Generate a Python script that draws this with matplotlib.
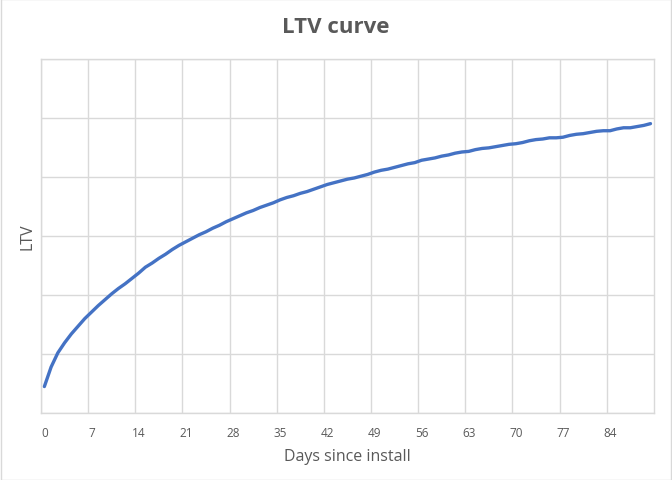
import matplotlib.pyplot as plt
from matplotlib.patches import Rectangle

# Days since install (one category per day) and LTV
days = list(range(91))
ltv = [
    0.45, 0.78, 1.02, 1.19, 1.34, 1.47, 1.60, 1.71, 1.82, 1.92,
    2.02, 2.11, 2.19, 2.28, 2.37, 2.47, 2.54, 2.62, 2.69, 2.77,
    2.84, 2.90, 2.96, 3.02, 3.07, 3.13, 3.18, 3.24, 3.29, 3.34,
    3.39, 3.43, 3.48, 3.52, 3.56, 3.61, 3.65, 3.68, 3.72, 3.75,
    3.79, 3.83, 3.87, 3.90, 3.93, 3.96, 3.98, 4.01, 4.04, 4.08,
    4.11, 4.13, 4.16, 4.19, 4.22, 4.24, 4.28, 4.30, 4.32, 4.35,
    4.37, 4.40, 4.42, 4.43, 4.46, 4.48, 4.49, 4.51, 4.53, 4.55,
    4.56, 4.58, 4.61, 4.63, 4.64, 4.66, 4.66, 4.67, 4.70, 4.72,
    4.73, 4.75, 4.77, 4.78, 4.78, 4.81, 4.83, 4.83, 4.85, 4.87,
    4.90,
]
tick_days = list(range(0, 85, 7))

GRID = "#D9D9D9"
TEXT = "#595959"

plt.rcParams["font.family"] = ["Open Sans", "DejaVu Sans"]

fig = plt.figure(figsize=(6.72, 4.81), dpi=100)
ax = fig.add_axes([0.061, 0.139, 0.912, 0.737])

ax.plot(days, ltv, color="#4472C4", linewidth=2.4, solid_capstyle="round")

# category-style axis: gridlines on category boundaries, labels at centres
ax.set_xlim(-0.5, len(days) - 0.5)
ax.set_ylim(0, 6)
ax.set_xticks(tick_days)
ax.set_xticklabels([str(d) for d in tick_days])
ax.set_xticks([d - 0.5 for d in tick_days], minor=True)
ax.set_yticks(range(0, 7))
ax.set_yticklabels([])
ax.tick_params(axis="both", which="both", length=0)
ax.tick_params(axis="x", labelsize=8.5, labelcolor=TEXT, pad=9)
ax.grid(True, which="minor", axis="x", color=GRID, linewidth=1)
ax.grid(True, which="major", axis="y", color=GRID, linewidth=1)
ax.set_axisbelow(True)
for s in ax.spines.values():
    s.set_color(GRID)
    s.set_linewidth(1)

ax.set_xlabel("Days since install", fontsize=11.5, color=TEXT, labelpad=7)
ax.set_ylabel("LTV", fontsize=11.5, color=TEXT)
ax.yaxis.set_label_coords(-0.009, 0.5)
fig.text(0.5, 0.942, "LTV curve", ha="center", va="center",
         fontsize=16, fontweight="bold", color=TEXT)

# chart area border
fig.patches.append(Rectangle((0.001, 0.001), 0.998, 0.998, transform=fig.transFigure,
                             fill=False, edgecolor=GRID, linewidth=1))

fig.savefig("out.png", dpi=100)
